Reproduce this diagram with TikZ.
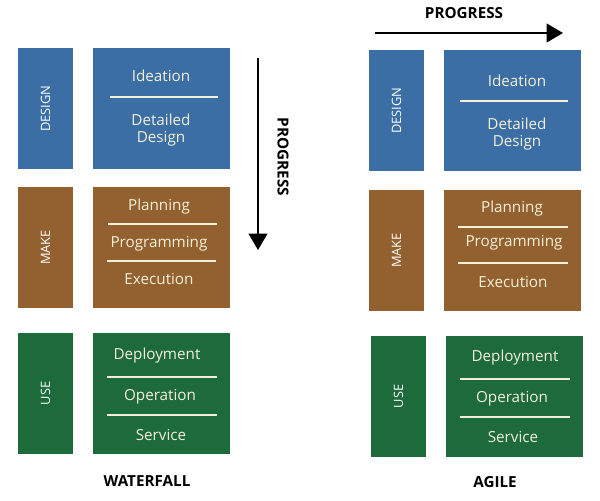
\documentclass[tikz,border=0pt]{standalone}
\usepackage{fontspec}
\setmainfont{Open Sans}
\usetikzlibrary{arrows.meta}
\definecolor{designblue}{HTML}{3A6EA5}
\definecolor{makebrown}{HTML}{93612F}
\definecolor{usegreen}{HTML}{1D6B3B}
\definecolor{cream}{HTML}{F4F0D8}
\newcommand{\phasebox}[6]{% x, y, color, side label, name, content
  \fill[#3] (#1,#2) rectangle ++(55,121);
  \node[sidetext] (#5side) at (#1+27.5,#2+60.5) {#4};
  \fill[#3] (#1+75,#2) rectangle ++(137,121);
  #6
}
\tikzset{
  sidetext/.style={rotate=90, text=white, font=\fontsize{11}{13}\selectfont},
  steptext/.style={text=cream, font=\fontsize{13}{15}\selectfont},
  sepline/.style={cream, line width=1.2pt},
  labeltext/.style={font=\fontsize{13}{15}\selectfont\bfseries}
}
\begin{document}
\begin{tikzpicture}[x=0.03cm, y=-0.03cm]
  \useasboundingbox (0,0) rectangle (600,500);

  % waterfall column
  \phasebox{18}{48}{designblue}{DESIGN}{wdesign}{%
    \node[steptext] (wideation) at (161,76) {Ideation};
    \draw[sepline] (110,97) -- (218,97);
    \node[steptext,align=center] (wdetail) at (161,130) {Detailed\\Design};}
  \phasebox{18}{187}{makebrown}{MAKE}{wmake}{%
    \node[steptext] (wplan) at (159,207) {Planning};
    \draw[sepline] (108,224) -- (217,224);
    \node[steptext] (wprog) at (159,244) {Programming};
    \draw[sepline] (107,261) -- (216,261);
    \node[steptext] (wexec) at (159,279) {Execution};}
  \phasebox{18}{333}{usegreen}{USE}{wuse}{%
    \node[steptext] (wdeploy) at (157,356) {Deployment};
    \draw[sepline] (107,377) -- (217,377);
    \node[steptext] (wop) at (160,397) {Operation};
    \draw[sepline] (107,415) -- (217,415);
    \node[steptext] (wserv) at (161,435) {Service};}
  \coordinate (wtop) at (258,58);
  \coordinate (wbot) at (258,250);
  \draw[line width=1.5pt, -{Triangle[length=14pt,width=16pt]}] (wtop) -- (wbot);
  \node[labeltext, rotate=-90] (wprogress) at (283,157) {PROGRESS};
  \node[labeltext] (waterfall) at (147,481) {WATERFALL};

  % agile column
  \phasebox{369}{50}{designblue}{DESIGN}{adesign}{%
    \node[steptext] (aideation) at (517,81) {Ideation};
    \draw[sepline] (460,101) -- (568,101);
    \node[steptext,align=center] (adetail) at (517,134) {Detailed\\Design};}
  \phasebox{369}{190}{makebrown}{MAKE}{amake}{%
    \node[steptext] (aplan) at (512,209) {Planning};
    \draw[sepline] (458,227) -- (568,227);
    \node[steptext] (aprog) at (514,243) {Programming};
    \draw[sepline] (458,263) -- (568,263);
    \node[steptext] (aexec) at (513,282) {Execution};}
  \phasebox{371}{336}{usegreen}{USE}{ause}{%
    \node[steptext] (adeploy) at (515,358) {Deployment};
    \draw[sepline] (460,379) -- (570,379);
    \node[steptext] (aop) at (512,399) {Operation};
    \draw[sepline] (460,417) -- (570,417);
    \node[steptext] (aserv) at (513,437) {Service};}
  \coordinate (aleft) at (375,33);
  \coordinate (aright) at (563,33);
  \draw[line width=1.5pt, -{Triangle[length=14pt,width=16pt]}] (aleft) -- (aright);
  \node[labeltext] (aprogress) at (464,13) {PROGRESS};
  \node[labeltext] (agile) at (495,482) {AGILE};
\end{tikzpicture}
\end{document}
